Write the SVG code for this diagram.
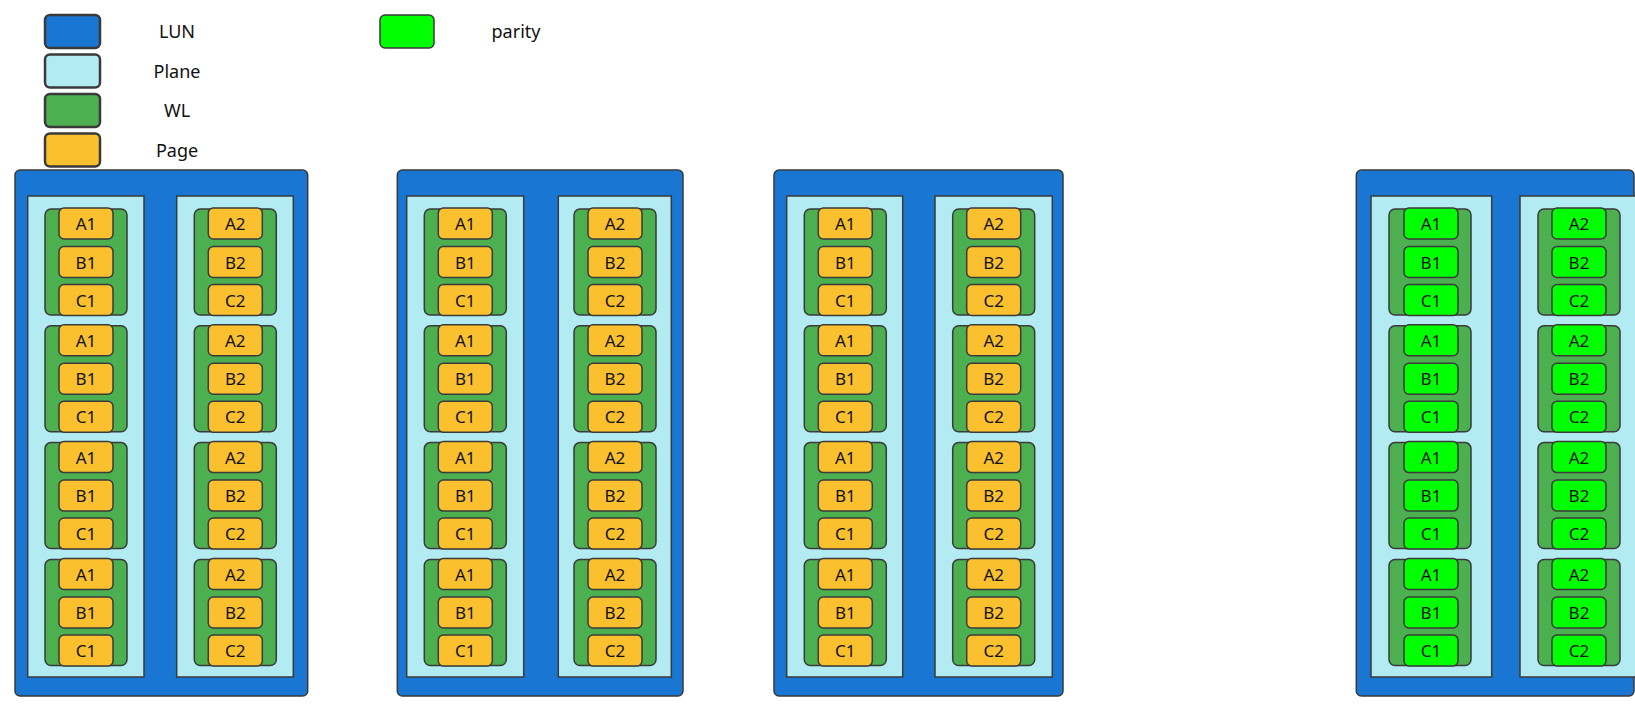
<svg xmlns="http://www.w3.org/2000/svg" xmlns:xlink="http://www.w3.org/1999/xlink" width="1635" height="721" viewBox="0 0 1635 721">
<style>
.s{stroke:#3a3a3a;stroke-width:1.5}
.lun{fill:#1976D2}.pl{fill:#B2EBF2}.wl{fill:#4CAF50}.pg{fill:#FBC02D}.par{fill:#00FF00}
.lg{stroke:#3a3a3a;stroke-width:2.5}
text{font-family:"Noto Sans","Open Sans","DejaVu Sans",sans-serif;fill:#111;text-anchor:middle}
.t{font-size:17px}.lt{font-size:18px}
</style>
<defs>
<g id="w1"><rect class="wl s" x="0" y="0" width="82" height="106" rx="6"/>
<rect class="pg s" x="14" y="-1" width="54" height="31" rx="5"/><text class="t" x="41" y="21">A1</text>
<rect class="pg s" x="14" y="37.5" width="54" height="31" rx="5"/><text class="t" x="41" y="59.5">B1</text>
<rect class="pg s" x="14" y="75.5" width="54" height="31" rx="5"/><text class="t" x="41" y="97.5">C1</text></g>
<g id="w2"><rect class="wl s" x="0" y="0" width="82" height="106" rx="6"/>
<rect class="pg s" x="14" y="-1" width="54" height="31" rx="5"/><text class="t" x="41" y="21">A2</text>
<rect class="pg s" x="14" y="37.5" width="54" height="31" rx="5"/><text class="t" x="41" y="59.5">B2</text>
<rect class="pg s" x="14" y="75.5" width="54" height="31" rx="5"/><text class="t" x="41" y="97.5">C2</text></g>
<g id="p1"><rect class="wl s" x="0" y="0" width="82" height="106" rx="6"/>
<rect class="par s" x="15" y="-1" width="54" height="31" rx="5"/><text class="t" x="42" y="21">A1</text>
<rect class="par s" x="15" y="37.5" width="54" height="31" rx="5"/><text class="t" x="42" y="59.5">B1</text>
<rect class="par s" x="15" y="75.5" width="54" height="31" rx="5"/><text class="t" x="42" y="97.5">C1</text></g>
<g id="p2"><rect class="wl s" x="0" y="0" width="82" height="106" rx="6"/>
<rect class="par s" x="14" y="-1" width="54" height="31" rx="5"/><text class="t" x="41" y="21">A2</text>
<rect class="par s" x="14" y="37.5" width="54" height="31" rx="5"/><text class="t" x="41" y="59.5">B2</text>
<rect class="par s" x="14" y="75.5" width="54" height="31" rx="5"/><text class="t" x="41" y="97.5">C2</text></g>
</defs>
<g id="legend">
<rect class="lun lg" x="45" y="15" width="55" height="33" rx="5"/><text class="lt" x="177" y="38">LUN</text>
<rect class="pl lg" x="45" y="54.5" width="55" height="33" rx="5"/><text class="lt" x="177" y="77.5">Plane</text>
<rect class="wl lg" x="45" y="94" width="55" height="33" rx="5"/><text class="lt" x="177" y="117">WL</text>
<rect class="pg lg" x="45" y="133.5" width="55" height="33" rx="5"/><text class="lt" x="177" y="156.5">Page</text>
<rect class="par s" x="380" y="15" width="54" height="33" rx="5"/><text class="lt" x="516" y="38">parity</text>
</g>
<g id="lun1">
<rect class="lun s" x="15" y="170" width="292.7" height="526" rx="5"/>
<rect class="pl s" x="27.7" y="196" width="116.3" height="481"/>
<rect class="pl s" x="176.7" y="196" width="116.6" height="481"/>
<use href="#w1" x="45" y="209"/><use href="#w1" x="45" y="325.8"/><use href="#w1" x="45" y="442.6"/><use href="#w1" x="45" y="559.5"/>
<use href="#w2" x="194.3" y="209"/><use href="#w2" x="194.3" y="325.8"/><use href="#w2" x="194.3" y="442.6"/><use href="#w2" x="194.3" y="559.5"/>
</g>
<g id="lun2">
<rect class="lun s" x="397.3" y="170" width="285.7" height="526" rx="5"/>
<rect class="pl s" x="406.7" y="196" width="117" height="481"/>
<rect class="pl s" x="558.3" y="196" width="113" height="481"/>
<use href="#w1" x="424.3" y="209"/><use href="#w1" x="424.3" y="325.8"/><use href="#w1" x="424.3" y="442.6"/><use href="#w1" x="424.3" y="559.5"/>
<use href="#w2" x="574" y="209"/><use href="#w2" x="574" y="325.8"/><use href="#w2" x="574" y="442.6"/><use href="#w2" x="574" y="559.5"/>
</g>
<g id="lun3">
<rect class="lun s" x="774" y="170" width="289" height="526" rx="5"/>
<rect class="pl s" x="786.7" y="196" width="116" height="481"/>
<rect class="pl s" x="935" y="196" width="117.3" height="481"/>
<use href="#w1" x="804.3" y="209"/><use href="#w1" x="804.3" y="325.8"/><use href="#w1" x="804.3" y="442.6"/><use href="#w1" x="804.3" y="559.5"/>
<use href="#w2" x="952.7" y="209"/><use href="#w2" x="952.7" y="325.8"/><use href="#w2" x="952.7" y="442.6"/><use href="#w2" x="952.7" y="559.5"/>
</g>
<g id="lun4">
<rect class="lun s" x="1356.3" y="170" width="277.7" height="526" rx="5"/>
<rect class="pl s" x="1371" y="196" width="120.7" height="481"/>
<rect class="pl s" x="1520" y="196" width="125" height="481"/>
<use href="#p1" x="1389" y="209"/><use href="#p1" x="1389" y="325.8"/><use href="#p1" x="1389" y="442.6"/><use href="#p1" x="1389" y="559.5"/>
<use href="#p2" x="1538" y="209"/><use href="#p2" x="1538" y="325.8"/><use href="#p2" x="1538" y="442.6"/><use href="#p2" x="1538" y="559.5"/>
</g>
<g id="connectors"/>
</svg>
